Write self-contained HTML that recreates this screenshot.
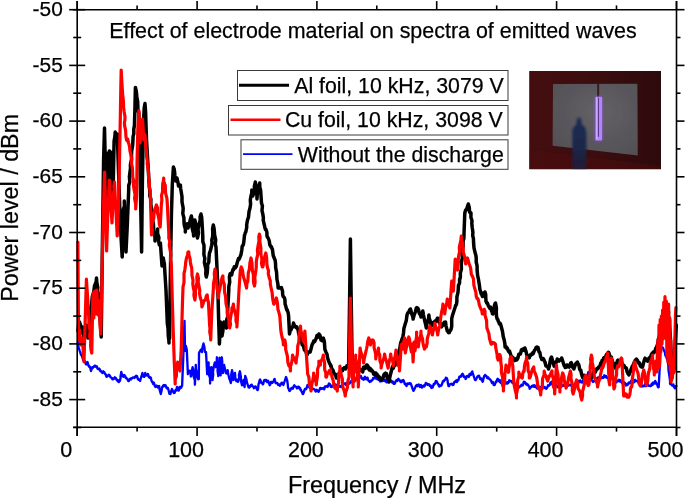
<!DOCTYPE html>
<html><head><meta charset="utf-8"><title>Effect of electrode material on spectra of emitted waves</title>
<style>
html,body{margin:0;padding:0;background:#fff;}
body{width:685px;height:498px;overflow:hidden;}
svg{display:block;}
text{font-family:"Liberation Sans",Arial,sans-serif;fill:#000;stroke:#000;stroke-width:0.25px;}
</style></head><body>
<svg width="685" height="498" viewBox="0 0 685 498">
<rect width="685" height="498" fill="#fff"/>
<!-- title -->
<text x="109.3" y="37.6" font-size="21.45">Effect of electrode material on spectra of emitted waves</text>
<!-- legend -->
<g fill="#fff" stroke="#3a3a3a" stroke-width="1">
<rect x="237.5" y="70.5" width="270.5" height="30"/>
<rect x="228.5" y="105.5" width="279.5" height="29.5"/>
<rect x="241" y="139.8" width="267" height="29.5"/>
</g>
<line x1="239" y1="85.2" x2="289" y2="85.2" stroke="#000" stroke-width="3"/>
<line x1="230.5" y1="119.7" x2="280.5" y2="119.7" stroke="#f00" stroke-width="2.6"/>
<line x1="243" y1="154.1" x2="292.5" y2="154.1" stroke="#00f" stroke-width="1.8"/>
<text x="294.2" y="92.6" font-size="21.3">Al foil, 10 kHz, 3079 V</text>
<text x="284.9" y="127.2" font-size="21.3">Cu foil, 10 kHz, 3098 V</text>
<text x="297.8" y="161.6" font-size="21.3">Without the discharge</text>
<!-- inset photo -->
<g>
<defs>
<linearGradient id="bg" x1="0" y1="0" x2="1" y2="0"><stop offset="0" stop-color="#440e10"/><stop offset="0.5" stop-color="#3c0d0f"/><stop offset="1" stop-color="#2d0a0c"/></linearGradient>
<radialGradient id="pn" cx="0.55" cy="0.4" r="0.7"><stop offset="0" stop-color="#636165"/><stop offset="1" stop-color="#525055"/></radialGradient>
<filter id="bl" x="-20%" y="-20%" width="140%" height="140%"><feGaussianBlur stdDeviation="0.55"/></filter>
<filter id="b2" x="-30%" y="-20%" width="160%" height="140%"><feGaussianBlur stdDeviation="0.85"/></filter>
<filter id="gl" x="-300%" y="-20%" width="700%" height="140%"><feGaussianBlur stdDeviation="1.6"/></filter>
<linearGradient id="bt" x1="0" y1="0" x2="0" y2="1"><stop offset="0" stop-color="#1e2e56"/><stop offset="0.6" stop-color="#1c2648"/><stop offset="1" stop-color="#221a32"/></linearGradient>
<clipPath id="ic"><rect x="529.2" y="71" width="131.8" height="98.2"/></clipPath>
</defs>
<rect x="529.2" y="71" width="131.8" height="98.2" fill="url(#bg)"/>
<g clip-path="url(#ic)">
<polygon points="529,150 590,157 661,166 661,170 529,170" fill="#4e0d0d" opacity="0.55" filter="url(#b2)"/>
<polygon points="553,84 637.4,83.8 637.8,155.6 552.6,145.8" fill="url(#pn)" filter="url(#bl)"/>
<path d="M572.4,170 L572.3,131 Q572.8,127 576.4,124.6 L576.6,120.5 Q579,114 581.5,120.5 L581.8,124.6 Q585.8,127 586.3,131.5 L586.5,170 Z" fill="url(#bt)" filter="url(#b2)"/>
<rect x="597.2" y="83.6" width="1.9" height="13.6" fill="#381a1b"/>
<rect x="595" y="96.6" width="7.2" height="44.2" rx="1" fill="#8c4cf0" opacity="0.8" filter="url(#gl)"/>
<rect x="595.4" y="96.8" width="6.7" height="43.7" rx="0.8" fill="#b583fa"/>
<rect x="596" y="97.5" width="1.6" height="42" fill="#d2b0ff" opacity="0.8"/>
<rect x="597.9" y="97.6" width="1.1" height="39.2" fill="#5a3a8a"/>
</g>
</g>
<!-- curves -->
<g fill="none" stroke-linejoin="round" stroke-linecap="round">
<path d="M77.9,342.0 L78.2,345.2 L78.8,348.0 L79.7,350.8 L80.5,353.0 L80.9,354.7 L81.3,355.1 L81.8,355.5 L82.2,357.0 L83.1,359.7 L83.5,360.5 L84.0,361.0 L84.5,362.1 L84.9,361.1 L85.8,364.0 L86.2,364.5 L86.7,364.3 L87.5,362.0 L88.4,365.3 L88.8,366.2 L89.3,367.0 L89.7,366.6 L90.2,367.4 L91.0,371.0 L91.9,368.1 L92.3,367.1 L92.8,368.0 L93.2,367.2 L93.7,367.0 L94.1,366.3 L94.5,366.0 L94.9,365.6 L95.3,366.5 L95.8,366.3 L96.2,367.0 L96.7,366.3 L97.1,367.2 L97.5,368.6 L98.0,369.0 L98.5,369.2 L99.1,368.6 L99.7,369.2 L100.2,371.0 L100.8,370.8 L101.3,371.7 L101.9,372.4 L102.4,373.0 L102.8,372.0 L103.2,371.2 L103.7,372.6 L104.1,372.0 L104.5,372.6 L105.0,373.8 L105.5,374.0 L105.9,375.0 L106.4,376.7 L106.8,376.8 L107.2,375.6 L107.7,376.0 L108.3,375.5 L108.8,374.7 L109.4,375.0 L110.0,376.0 L110.5,377.3 L111.0,377.3 L111.4,377.7 L111.9,378.0 L112.4,379.3 L112.8,379.4 L113.3,378.5 L113.8,379.0 L114.3,378.5 L114.8,377.3 L115.3,377.9 L115.8,378.0 L116.3,379.0 L116.8,380.2 L117.3,380.7 L117.8,380.0 L118.3,381.8 L118.8,382.1 L119.4,380.7 L119.9,381.0 L120.5,378.3 L120.6,376.0 L121.3,372.0 L122.4,376.0 L122.8,375.9 L123.2,376.7 L123.6,375.6 L124.0,375.0 L124.5,375.2 L124.9,376.6 L125.3,376.3 L125.8,378.0 L126.3,377.8 L126.8,378.6 L127.3,378.6 L127.8,380.0 L128.3,381.0 L128.9,381.1 L129.4,379.9 L130.0,379.0 L130.6,378.4 L131.1,379.5 L131.6,378.4 L132.2,378.0 L132.8,377.6 L133.3,377.4 L133.9,377.4 L134.4,378.0 L134.9,376.6 L135.5,376.6 L136.1,375.8 L136.6,377.0 L137.0,376.1 L137.4,377.4 L137.9,379.3 L138.3,379.0 L138.8,379.9 L139.2,379.8 L139.6,379.5 L140.1,381.0 L141.2,377.0 L142.4,373.0 L143.1,376.2 L143.5,376.6 L143.8,376.0 L144.2,376.9 L144.5,375.6 L145.2,373.0 L145.9,375.5 L146.2,375.4 L146.6,375.0 L146.9,374.5 L147.3,375.6 L147.7,374.8 L148.0,374.0 L149.0,377.3 L149.5,377.5 L150.0,378.0 L150.4,377.2 L150.8,377.7 L151.5,380.7 L151.9,381.5 L152.3,382.0 L153.2,384.1 L153.6,382.5 L154.0,383.0 L154.9,386.1 L155.4,387.0 L155.8,386.0 L156.2,386.1 L156.7,385.6 L157.1,386.6 L157.6,387.0 L158.0,387.6 L158.4,386.2 L158.8,386.4 L159.2,386.0 L159.6,389.7 L160.8,394.0 L161.7,390.1 L162.0,388.0 L162.3,386.8 L162.7,386.8 L163.0,385.8 L163.3,386.0 L163.6,385.2 L163.9,386.0 L164.3,385.0 L164.6,386.0 L165.1,386.2 L165.6,385.3 L166.6,388.0 L167.1,388.6 L167.6,387.7 L168.0,388.4 L168.5,390.0 L169.4,393.7 L169.9,393.2 L170.4,394.0 L170.8,392.4 L172.0,389.0 L172.8,391.0 L173.1,391.8 L173.5,392.0 L173.9,393.1 L174.3,392.6 L174.7,392.7 L175.1,391.0 L175.6,390.0 L176.1,390.4 L177.0,387.0 L177.5,388.8 L178.0,389.4 L178.4,390.6 L178.8,390.4 L179.5,386.9 L179.9,388.1 L180.3,388.2 L180.8,387.5 L181.2,387.6 L181.6,386.0 L182.1,385.9 L183.3,356.7 L184.5,321.0 L185.0,350.8 L185.9,346.0 L186.8,349.7 L187.9,374.2 L188.8,371.6 L189.2,371.9 L189.7,370.7 L190.6,373.1 L190.8,376.5 L191.4,372.7 L192.6,367.2 L193.5,371.1 L193.4,375.8 L194.8,379.9 L194.9,384.7 L195.8,364.9 L196.0,369.1 L197.0,372.8 L197.3,376.5 L198.1,379.3 L198.4,378.7 L198.8,378.9 L199.0,353.2 L199.4,352.1 L199.9,351.5 L200.4,350.7 L200.8,349.7 L201.4,350.0 L202.0,352.0 L202.4,347.8 L203.5,343.5 L204.4,347.0 L204.9,352.0 L205.4,351.7 L206.0,352.0 L207.2,374.2 L207.5,369.9 L208.4,366.0 L208.6,362.5 L208.7,365.9 L209.5,371.6 L209.1,375.2 L210.2,378.7 L210.1,383.5 L210.0,379.3 L211.0,375.6 L210.7,370.9 L211.3,367.2 L211.9,370.9 L211.8,375.5 L212.5,380.0 L213.2,374.8 L213.0,372.2 L213.6,367.2 L214.8,362.5 L216.0,367.2 L216.7,362.4 L216.9,357.3 L216.9,361.5 L218.1,366.2 L217.5,370.6 L218.3,376.0 L219.5,357.8 L220.6,375.4 L221.8,357.3 L222.3,362.0 L222.1,364.3 L223.0,369.0 L223.0,373.0 L223.1,368.2 L224.1,364.9 L225.2,369.9 L225.9,373.0 L226.3,373.4 L226.8,372.4 L227.6,370.1 L228.3,374.2 L229.4,378.9 L229.8,379.1 L230.1,380.4 L230.8,383.0 L231.6,378.9 L231.2,375.0 L232.0,370.1 L232.8,373.9 L232.6,377.2 L233.5,380.0 L234.6,377.1 L235.0,373.0 L235.3,377.9 L236.4,381.2 L236.8,379.7 L237.2,380.2 L237.7,381.1 L238.1,381.8 L239.2,377.3 L238.9,375.0 L239.9,371.3 L240.9,376.9 L240.9,380.5 L242.0,385.3 L242.6,384.6 L243.1,383.4 L243.4,380.0 L243.6,383.3 L244.6,387.0 L245.2,376.0 L246.4,379.1 L246.9,382.4 L248.1,385.8 L248.6,387.4 L249.2,387.6 L249.6,387.2 L250.0,385.9 L250.4,386.5 L250.8,385.3 L251.2,386.0 L251.6,384.7 L252.0,385.4 L252.4,386.1 L252.8,386.3 L253.1,386.6 L253.5,386.7 L253.9,388.2 L254.4,387.0 L254.8,386.7 L255.2,386.8 L255.7,386.5 L256.5,388.5 L256.9,388.2 L257.2,389.7 L257.6,390.0 L258.0,389.4 L258.5,384.6 L259.7,380.0 L260.1,379.4 L260.5,380.4 L261.4,383.0 L261.8,382.8 L262.3,382.8 L262.8,384.4 L263.2,384.0 L263.9,381.2 L264.2,380.2 L264.5,381.0 L264.8,379.9 L265.1,380.8 L265.5,380.3 L265.8,380.0 L266.2,380.0 L266.6,381.3 L267.1,382.1 L267.5,382.0 L267.9,380.7 L268.4,381.5 L269.3,384.0 L269.7,385.2 L270.2,384.8 L271.0,382.0 L271.5,382.8 L271.9,382.0 L272.4,382.7 L272.8,382.2 L273.2,381.6 L273.7,381.2 L274.1,379.6 L274.6,379.0 L275.5,382.7 L275.9,383.2 L276.4,383.0 L276.8,383.0 L277.2,382.9 L277.7,383.8 L278.1,385.0 L278.5,384.3 L279.0,384.4 L279.4,385.0 L279.8,385.8 L280.3,385.3 L280.7,384.0 L281.1,384.0 L281.6,382.6 L282.0,383.7 L282.5,383.0 L282.9,383.3 L283.4,385.0 L284.7,381.0 L286.0,377.0 L287.2,380.5 L287.7,384.0 L288.1,388.0 L288.6,388.6 L289.0,389.9 L289.5,391.0 L290.1,390.5 L290.6,389.6 L291.1,388.5 L291.7,388.0 L292.2,387.7 L292.8,388.8 L293.9,386.0 L294.3,385.3 L294.8,386.4 L295.2,386.2 L295.6,386.7 L296.1,386.8 L296.5,387.0 L296.9,388.4 L297.4,387.7 L297.8,388.0 L298.2,386.6 L298.7,387.6 L299.1,387.0 L299.6,388.5 L300.1,388.0 L300.5,390.0 L301.0,390.0 L301.5,391.4 L302.1,392.3 L302.6,393.9 L303.1,394.0 L304.2,391.0 L304.8,389.0 L305.3,389.0 L305.9,389.2 L306.4,388.6 L307.5,385.0 L307.9,386.1 L308.3,386.6 L308.8,386.4 L309.2,387.1 L309.6,387.7 L310.0,388.0 L310.5,388.4 L311.0,386.9 L311.5,387.5 L312.0,388.2 L312.5,388.9 L313.0,389.0 L313.6,388.7 L314.1,389.3 L314.6,389.6 L315.2,390.6 L315.8,391.6 L316.3,391.0 L316.7,389.8 L317.2,390.8 L317.6,390.4 L318.1,391.4 L318.5,391.7 L318.9,391.2 L319.4,390.0 L319.8,389.0 L320.2,387.9 L320.7,388.7 L321.1,388.8 L321.6,388.3 L322.0,388.2 L322.4,388.7 L322.9,388.5 L323.3,388.0 L323.7,388.5 L324.2,389.3 L325.1,386.4 L325.5,386.6 L325.9,386.6 L326.4,386.4 L326.8,386.0 L327.2,386.2 L327.7,386.9 L328.6,384.3 L329.0,383.6 L329.4,384.6 L329.9,384.1 L330.3,385.0 L330.7,386.8 L331.2,387.0 L331.6,386.9 L332.1,386.7 L332.5,385.4 L332.9,385.8 L333.4,386.7 L333.8,386.0 L334.3,384.6 L334.9,384.3 L335.4,384.6 L335.9,386.8 L336.5,385.9 L337.0,385.0 L337.5,385.0 L338.0,386.0 L338.5,386.4 L339.0,386.8 L339.5,386.5 L340.0,386.0 L340.5,385.9 L341.0,387.1 L341.5,386.7 L342.0,386.1 L342.5,384.2 L343.0,384.0 L343.5,384.1 L344.0,384.0 L344.5,383.9 L345.0,383.4 L345.5,383.3 L346.0,385.0 L346.5,384.1 L347.0,383.6 L347.5,382.7 L348.0,383.7 L348.5,383.2 L349.0,383.0 L349.5,383.6 L350.0,382.7 L350.5,382.1 L351.0,381.2 L351.5,382.1 L352.0,382.0 L352.5,381.6 L353.0,380.1 L353.5,379.7 L354.0,381.0 L354.5,381.6 L355.0,380.1 L355.5,380.0 L356.0,379.0 L356.5,377.6 L357.0,378.0 L357.5,379.6 L358.1,379.8 L358.6,378.6 L359.1,378.0 L359.6,376.8 L360.1,377.0 L360.5,377.5 L361.0,376.0 L361.4,377.2 L361.8,378.0 L362.3,379.1 L362.7,379.0 L363.1,378.6 L363.6,379.7 L364.0,379.3 L364.4,377.6 L364.9,376.8 L365.3,378.0 L365.7,378.1 L366.2,379.4 L366.6,378.3 L367.1,377.7 L367.5,377.6 L367.9,379.5 L368.4,380.5 L368.8,381.0 L369.2,380.9 L369.7,382.0 L370.1,381.0 L370.6,380.8 L371.0,381.3 L371.4,380.9 L371.9,380.3 L372.3,380.0 L372.7,379.8 L373.2,377.9 L373.6,378.2 L374.0,378.0 L374.5,378.3 L374.9,377.0 L375.3,377.6 L375.8,377.9 L376.2,378.6 L376.6,377.5 L377.1,379.1 L377.5,379.0 L377.9,378.7 L378.4,379.8 L378.9,380.2 L379.3,379.6 L379.8,380.2 L380.2,381.5 L380.7,381.3 L381.1,380.0 L381.5,380.7 L382.0,380.5 L382.4,381.1 L382.9,380.2 L383.3,379.0 L383.7,379.4 L384.2,379.9 L384.6,381.0 L385.0,381.0 L385.5,380.0 L386.4,382.4 L386.8,382.4 L387.2,380.3 L387.7,381.7 L388.1,382.0 L388.5,380.2 L389.0,380.3 L389.4,380.5 L389.9,380.3 L390.3,379.9 L390.7,381.3 L391.2,381.3 L391.6,381.0 L392.0,382.5 L392.5,382.7 L392.9,381.7 L393.4,382.4 L393.8,383.9 L394.2,383.6 L394.7,383.7 L395.1,383.0 L395.7,381.2 L396.2,380.4 L396.8,380.0 L397.3,381.0 L397.9,379.8 L398.4,378.7 L398.9,380.1 L399.5,380.0 L400.1,381.2 L400.6,382.0 L401.1,381.1 L401.7,382.0 L402.2,380.4 L402.8,380.9 L403.3,380.1 L403.9,381.0 L404.5,383.3 L404.9,384.3 L405.2,384.0 L405.5,383.5 L405.9,384.5 L406.2,385.4 L406.5,386.0 L407.4,383.8 L407.8,383.4 L408.2,384.0 L408.6,384.0 L409.1,383.2 L409.6,383.3 L410.0,384.0 L410.5,383.2 L411.0,384.1 L412.0,387.0 L413.0,390.0 L413.5,390.8 L414.0,390.0 L414.4,389.2 L414.9,388.3 L415.8,386.0 L416.2,385.9 L416.6,385.0 L417.1,385.7 L417.5,385.0 L417.9,386.2 L418.3,385.5 L418.8,384.6 L419.2,385.9 L419.6,386.1 L420.0,387.0 L420.5,385.3 L420.9,385.1 L421.9,387.7 L422.3,386.9 L422.8,386.0 L423.2,386.6 L423.7,385.6 L424.1,386.6 L424.5,386.3 L425.4,384.0 L425.8,382.9 L426.3,383.8 L426.7,383.4 L427.1,384.4 L427.6,384.9 L428.0,384.0 L428.4,384.4 L428.9,384.1 L429.4,384.8 L429.8,386.0 L430.2,385.6 L430.6,385.4 L431.5,388.0 L432.1,387.0 L432.6,387.6 L433.7,384.0 L434.2,384.6 L434.8,383.8 L435.9,381.0 L436.4,381.2 L437.0,381.8 L437.6,383.7 L438.1,384.0 L438.7,385.5 L439.2,386.4 L439.8,385.3 L440.3,386.0 L440.8,385.4 L441.4,385.6 L442.4,383.0 L442.9,381.3 L443.4,380.8 L443.9,381.3 L444.4,380.0 L444.9,379.9 L445.4,379.4 L445.9,377.7 L446.4,378.0 L447.0,378.5 L447.6,380.5 L447.8,383.0 L448.5,386.1 L448.8,385.8 L449.1,386.0 L449.5,385.0 L450.0,384.1 L450.4,384.2 L450.8,384.0 L451.2,383.8 L451.7,384.1 L452.2,384.2 L452.6,385.0 L453.0,383.8 L453.5,384.8 L454.3,382.0 L454.8,382.2 L455.2,382.0 L455.6,381.0 L456.1,380.6 L456.5,380.3 L456.9,382.0 L457.4,380.9 L457.8,380.0 L458.4,380.3 L458.9,378.4 L459.4,376.7 L460.0,377.0 L460.6,376.0 L461.1,376.6 L461.6,375.7 L462.2,374.0 L462.6,373.8 L463.1,374.6 L464.0,377.0 L464.4,376.4 L464.9,376.8 L465.7,379.0 L466.1,378.2 L466.5,377.5 L466.9,376.2 L467.2,375.9 L467.6,376.1 L468.0,376.0 L468.4,376.6 L468.8,377.0 L469.6,373.9 L470.0,375.0 L470.4,374.0 L470.8,375.0 L471.2,373.9 L471.9,371.9 L472.3,371.4 L472.7,373.0 L474.0,377.0 L474.3,377.9 L474.6,378.6 L475.0,379.9 L475.3,380.0 L475.6,380.1 L476.0,378.6 L476.3,378.9 L476.6,378.0 L477.0,377.6 L477.3,376.7 L477.6,376.6 L478.0,376.0 L478.6,375.7 L479.1,375.9 L480.2,379.0 L480.7,378.3 L481.2,378.6 L481.8,380.5 L482.3,381.0 L482.6,381.7 L483.0,380.7 L483.6,378.0 L484.3,376.0 L484.6,376.4 L485.0,375.0 L485.6,375.7 L486.1,375.6 L486.6,376.4 L487.2,378.0 L487.8,378.3 L488.3,377.4 L488.8,378.7 L489.4,379.0 L489.8,379.3 L490.3,379.6 L490.7,380.4 L491.1,380.7 L492.0,383.0 L492.4,382.2 L492.9,382.0 L493.7,384.9 L494.2,385.1 L494.6,385.0 L495.1,383.8 L495.5,382.9 L495.9,381.5 L496.4,382.0 L497.2,379.3 L497.7,378.8 L498.1,379.0 L498.5,379.6 L499.0,381.1 L499.4,381.7 L499.8,380.2 L500.7,383.0 L501.1,382.9 L501.6,382.8 L502.5,385.5 L502.9,385.0 L503.4,385.0 L503.8,383.4 L504.3,383.0 L504.7,382.6 L505.1,383.5 L505.6,382.9 L506.0,383.0 L506.6,382.6 L507.1,383.7 L507.6,382.3 L508.2,383.1 L509.3,380.3 L509.8,381.5 L510.4,381.0 L510.9,381.0 L511.4,381.1 L512.0,382.0 L512.5,383.1 L513.0,383.2 L513.5,383.0 L514.0,382.7 L514.5,383.2 L515.5,386.0 L516.0,384.8 L516.5,385.0 L517.0,383.9 L517.5,384.6 L518.6,388.0 L519.1,387.0 L519.6,387.0 L520.0,386.3 L520.5,386.4 L521.0,386.0 L521.4,384.7 L521.8,385.0 L522.3,385.0 L522.7,385.4 L523.2,383.8 L523.6,382.4 L524.0,381.7 L524.5,382.8 L524.9,382.0 L525.5,383.3 L526.0,384.2 L526.5,383.7 L527.1,385.0 L527.7,384.4 L528.2,385.1 L528.8,386.2 L529.3,387.0 L529.7,388.7 L530.2,388.2 L530.6,387.2 L531.0,386.8 L531.5,386.9 L531.9,385.8 L532.4,385.7 L532.8,386.0 L533.2,386.5 L533.7,385.3 L534.1,385.2 L534.5,386.9 L535.0,386.3 L535.4,385.7 L535.9,387.2 L536.3,387.0 L536.7,387.3 L537.2,388.6 L538.0,386.1 L538.5,386.4 L538.9,387.8 L539.4,386.8 L539.8,388.0 L540.2,387.2 L540.7,387.9 L541.1,386.8 L541.5,386.7 L542.0,387.9 L542.4,388.2 L542.9,387.0 L543.3,387.0 L543.7,386.7 L544.2,386.8 L544.6,386.8 L545.0,388.1 L545.5,388.3 L545.9,388.0 L546.4,388.8 L546.8,388.0 L547.2,387.5 L547.7,386.3 L548.1,385.3 L548.5,385.6 L549.0,385.8 L549.4,385.0 L549.8,384.9 L550.3,382.8 L550.7,382.9 L551.1,382.5 L551.6,381.8 L552.0,383.0 L552.4,384.7 L552.9,385.0 L553.3,385.3 L553.8,383.9 L554.2,384.5 L554.6,385.8 L555.1,385.1 L555.5,386.0 L555.9,384.7 L556.4,384.8 L556.8,385.9 L557.2,386.7 L557.7,387.3 L558.1,386.3 L558.6,386.9 L559.0,387.0 L559.4,387.8 L559.9,386.8 L560.3,385.6 L560.8,385.8 L561.2,384.8 L561.6,384.7 L562.1,385.9 L562.5,386.0 L562.9,386.0 L563.4,385.3 L563.8,385.0 L564.2,385.0 L564.7,385.2 L565.1,384.7 L565.6,385.0 L566.0,386.0 L566.4,385.4 L566.8,386.8 L567.2,386.2 L567.6,386.0 L568.2,384.4 L568.7,384.9 L569.3,385.2 L569.9,385.0 L570.4,384.6 L571.0,385.0 L571.4,385.8 L571.9,386.7 L572.3,386.8 L572.8,386.5 L573.2,386.3 L573.6,387.1 L574.1,386.5 L574.5,386.0 L574.9,385.3 L575.4,386.8 L576.2,383.7 L576.7,384.6 L577.1,383.7 L577.6,384.0 L578.0,384.0 L579.0,380.8 L579.5,382.0 L580.0,381.0 L580.4,380.5 L580.8,382.0 L581.2,382.4 L581.7,382.3 L582.1,382.6 L582.5,382.0 L583.0,380.5 L583.5,379.8 L584.0,378.2 L584.6,378.4 L585.1,376.9 L585.6,377.0 L586.1,375.7 L586.6,375.9 L587.2,375.7 L587.7,374.4 L588.2,372.3 L588.7,372.0 L589.2,373.5 L589.8,373.6 L590.8,377.0 L591.9,380.7 L592.5,381.2 L593.0,382.0 L593.5,381.5 L594.0,380.8 L594.5,381.2 L595.0,381.1 L595.5,380.7 L596.0,380.0 L596.5,379.4 L597.1,378.2 L597.6,378.0 L598.1,377.3 L598.7,377.3 L599.2,378.0 L599.7,379.1 L600.2,379.2 L600.7,378.1 L601.2,378.2 L601.7,378.1 L602.2,377.0 L602.7,378.0 L603.2,377.8 L603.8,377.2 L604.3,375.3 L604.8,375.8 L605.3,377.0 L605.7,377.1 L606.2,376.1 L606.6,377.7 L607.0,377.3 L607.5,377.6 L607.9,378.2 L608.4,378.6 L608.8,380.0 L609.2,379.6 L609.7,379.0 L610.1,380.0 L610.5,379.1 L611.0,377.5 L611.4,377.6 L611.9,377.2 L612.3,379.0 L612.7,378.9 L613.2,378.8 L613.6,380.0 L614.0,380.5 L614.5,380.5 L614.9,379.3 L615.4,379.9 L615.8,381.0 L616.3,382.5 L616.7,381.9 L617.2,380.6 L617.7,380.6 L618.1,380.9 L618.6,380.0 L619.0,379.9 L619.5,381.5 L619.9,380.0 L620.4,380.6 L620.8,380.5 L621.2,382.0 L621.7,381.5 L622.1,383.0 L622.5,383.6 L623.0,384.2 L623.4,383.9 L623.9,383.5 L624.3,382.4 L624.7,382.7 L625.6,385.0 L626.0,385.5 L626.3,384.0 L626.7,384.2 L627.2,385.0 L627.6,384.0 L628.0,384.5 L628.5,382.8 L628.9,382.5 L629.4,383.3 L629.8,383.0 L630.3,382.9 L630.9,381.0 L631.4,381.6 L631.9,383.6 L632.5,381.8 L633.0,382.0 L633.5,382.6 L634.0,382.1 L634.5,380.3 L635.0,379.7 L635.5,381.4 L636.0,381.0 L636.5,380.9 L637.0,380.8 L637.5,381.3 L638.0,381.1 L639.0,384.3 L639.5,383.8 L640.0,384.0 L640.5,384.4 L641.0,383.5 L641.9,386.5 L642.4,386.4 L642.8,386.4 L643.3,385.8 L643.8,386.0 L644.3,386.0 L644.9,384.3 L645.5,384.4 L646.0,386.2 L646.5,386.0 L647.1,384.9 L647.7,384.0 L648.2,385.0 L648.8,385.8 L649.3,385.9 L649.9,385.8 L650.4,386.2 L651.0,386.0 L651.5,384.2 L652.0,383.6 L652.6,385.0 L653.2,382.5 L653.6,382.9 L653.9,383.0 L654.2,383.1 L654.5,383.6 L655.2,381.0 L655.7,382.5 L656.1,382.2 L656.5,384.1 L657.0,384.0 L657.9,387.0 L658.3,387.3 L658.7,387.0 L659.6,370.0 L660.5,351.0 L661.4,347.0 L661.8,347.0 L662.2,348.2 L662.7,347.5 L663.1,348.0 L664.0,350.9 L664.4,350.9 L664.8,352.0 L665.3,355.3 L665.7,356.0 L666.2,356.5 L666.6,358.0 L667.8,361.1 L668.4,366.0 L668.5,370.4 L669.3,375.0 L670.0,380.4 L670.1,384.0 L670.4,382.7 L670.8,382.7 L671.1,383.9 L671.4,384.0 L671.7,385.0 L672.0,385.4 L672.4,384.8 L672.7,385.0 L673.0,385.8 L673.4,384.4 L674.0,387.0 L674.4,387.0 L674.7,388.2 L675.0,388.3 L675.4,388.0 L675.8,386.2 L676.3,386.0" stroke="#00f" stroke-width="2.35"/>
<path d="M78.0,331.0 L78.5,325.8 L79.5,322.0 L80.4,324.8 L80.2,329.1 L81.0,333.0 L81.9,330.0 L82.4,327.0 L82.8,331.2 L83.6,334.8 L84.0,340.0 L84.2,336.9 L85.2,331.9 L85.1,329.6 L86.0,325.0 L87.0,329.1 L86.8,332.8 L88.0,338.0 L88.9,333.6 L88.6,329.2 L89.5,326.6 L89.4,322.2 L90.0,318.0 L90.9,313.2 L90.7,308.1 L91.7,303.9 L92.0,300.0 L92.3,296.5 L92.7,295.0 L93.2,295.4 L93.6,293.5 L94.0,290.0 L94.5,285.6 L95.0,284.8 L95.6,283.1 L96.1,282.4 L96.5,278.0 L96.8,282.4 L97.8,287.3 L97.6,290.3 L98.5,295.0 L100.0,318.0 L101.2,337.0 L102.6,230.0 L103.6,160.0 L104.5,128.0 L105.5,172.0 L106.2,153.0 L106.9,200.0 L107.9,162.0 L108.9,157.6 L108.6,155.2 L109.4,151.0 L110.2,196.0 L110.9,166.0 L111.7,214.0 L112.5,152.0 L113.2,186.0 L114.1,141.0 L114.9,136.5 L115.2,132.0 L115.6,136.3 L116.3,140.0 L117.2,137.1 L117.3,134.0 L118.5,170.0 L120.0,215.0 L121.2,240.0 L122.2,257.0 L123.3,215.0 L123.2,210.0 L124.4,205.9 L124.3,201.0 L125.2,230.0 L126.0,252.0 L127.3,225.0 L128.7,190.0 L128.7,185.4 L129.8,181.9 L129.4,176.8 L130.0,172.0 L130.5,168.2 L130.4,164.5 L131.6,158.8 L131.5,155.0 L131.7,150.7 L132.6,145.6 L132.9,141.0 L133.1,136.4 L133.8,133.9 L133.8,129.0 L134.4,125.7 L134.9,110.0 L135.4,87.5 L136.2,91.0 L136.5,93.0 L136.8,96.9 L137.7,101.8 L137.8,105.0 L137.9,109.7 L138.8,113.0 L139.8,150.0 L140.6,200.0 L141.6,252.0 L142.4,180.0 L143.4,125.0 L144.2,108.0 L145.0,103.5 L145.6,112.0 L146.0,125.0 L146.5,140.0 L148.0,165.0 L149.3,187.0 L149.9,191.1 L149.8,196.3 L150.3,196.9 L150.9,199.1 L150.8,204.0 L151.3,207.5 L152.3,212.0 L152.9,216.0 L152.6,219.5 L153.4,223.8 L153.6,228.0 L153.8,232.5 L155.0,237.0 L155.0,241.0 L155.3,238.7 L156.3,236.0 L157.3,231.6 L157.6,229.0 L157.6,233.6 L158.9,237.6 L158.6,240.8 L159.3,245.0 L159.9,243.5 L160.4,243.0 L162.0,266.0 L162.8,262.3 L163.3,258.0 L163.6,260.5 L164.4,264.0 L164.6,268.0 L166.0,290.0 L167.2,320.0 L167.3,323.4 L168.0,328.0 L168.2,333.0 L168.3,336.1 L168.9,340.4 L169.0,343.0 L168.9,339.8 L169.6,338.0 L169.9,310.0 L170.3,280.0 L170.8,250.0 L171.4,215.0 L172.3,185.0 L173.4,167.0 L174.2,169.2 L174.6,172.0 L174.9,175.7 L175.8,181.0 L176.9,178.0 L178.1,183.0 L178.5,186.0 L179.0,185.9 L179.4,185.4 L179.9,185.6 L180.4,185.0 L180.6,188.2 L181.4,193.0 L182.0,196.7 L182.0,201.7 L182.6,205.0 L183.2,208.3 L182.8,213.6 L183.9,217.8 L184.0,222.0 L184.3,225.4 L185.4,229.4 L185.3,232.0 L185.5,227.5 L186.5,224.0 L186.9,223.9 L187.2,225.4 L188.0,228.0 L188.6,225.9 L189.1,225.5 L189.8,222.0 L190.3,219.6 L191.4,216.0 L192.1,220.1 L191.8,226.3 L192.6,230.0 L193.5,233.6 L193.6,236.0 L193.5,232.5 L194.5,228.0 L194.3,223.1 L194.9,220.0 L195.7,224.1 L196.2,229.0 L196.6,233.9 L197.5,238.0 L198.5,233.2 L198.0,229.6 L199.0,224.0 L200.2,220.4 L200.1,216.8 L201.0,214.0 L201.7,217.4 L202.0,222.0 L202.8,236.0 L202.8,241.5 L204.0,245.3 L204.0,250.0 L203.9,254.6 L204.8,258.3 L204.4,262.6 L205.2,266.0 L206.0,269.6 L205.7,273.9 L206.3,277.0 L207.2,273.1 L207.6,268.0 L207.6,264.5 L208.0,263.8 L208.4,263.1 L208.8,262.2 L209.0,258.0 L209.4,253.3 L210.6,250.0 L211.5,245.8 L212.0,243.0 L211.8,239.9 L212.7,236.3 L212.8,232.0 L212.6,228.8 L213.3,225.0 L214.1,228.6 L214.4,232.0 L214.6,234.8 L215.7,239.8 L215.3,244.1 L216.0,247.0 L216.9,266.0 L217.7,283.0 L218.6,318.0 L219.4,344.0 L220.5,322.0 L221.3,327.4 L221.1,330.8 L222.0,336.0 L222.9,330.9 L223.1,326.8 L224.0,322.0 L224.4,322.2 L224.8,322.9 L225.6,325.6 L226.4,328.0 L226.9,324.8 L226.7,319.9 L227.7,316.8 L227.6,312.0 L228.8,290.0 L228.8,286.8 L229.7,282.1 L229.4,277.0 L230.0,274.0 L230.4,273.6 L230.8,274.2 L231.2,274.8 L231.6,275.0 L232.5,271.1 L232.9,269.6 L233.4,270.0 L234.3,266.8 L234.8,267.0 L235.2,268.0 L235.8,267.1 L236.3,266.3 L237.4,262.0 L238.5,258.6 L239.1,259.2 L239.6,258.0 L241.0,254.5 L241.8,250.0 L242.2,246.3 L242.7,245.6 L243.1,245.2 L243.6,243.4 L244.0,240.0 L244.5,235.2 L244.9,234.1 L245.4,232.5 L245.8,232.0 L246.7,227.5 L246.7,224.5 L247.5,220.0 L248.5,217.1 L248.8,214.0 L249.0,211.8 L250.0,208.0 L250.6,204.2 L250.3,200.0 L251.0,196.0 L251.8,192.9 L251.8,190.0 L252.0,193.0 L252.8,196.0 L253.8,193.0 L254.8,189.7 L254.3,186.6 L255.3,182.0 L256.0,185.6 L256.2,189.0 L256.0,193.0 L256.5,193.5 L256.9,194.9 L257.0,199.0 L257.3,193.6 L258.3,190.0 L259.2,185.6 L259.7,183.0 L259.8,187.1 L260.6,190.0 L261.5,203.0 L262.4,206.0 L262.0,210.7 L262.8,214.0 L263.4,218.1 L263.2,220.1 L264.1,224.0 L265.0,228.0 L265.4,229.4 L265.8,229.0 L266.9,232.3 L267.0,236.0 L267.6,237.4 L268.2,238.0 L269.3,241.0 L269.8,245.0 L270.4,245.6 L271.0,247.0 L271.5,246.8 L271.9,248.5 L272.4,249.3 L272.9,253.0 L273.2,255.5 L274.2,258.0 L274.7,259.3 L275.1,259.9 L275.5,263.0 L275.7,267.8 L276.5,271.8 L276.8,276.0 L276.9,279.0 L277.9,284.2 L278.1,288.0 L278.7,287.9 L279.2,288.1 L279.8,287.5 L280.3,288.0 L280.9,288.1 L281.4,287.6 L282.5,291.0 L282.7,294.6 L283.2,296.6 L283.8,297.0 L284.4,297.8 L284.9,299.7 L285.1,304.0 L285.7,306.1 L286.8,310.0 L287.2,309.9 L287.7,311.4 L288.1,312.5 L288.6,316.0 L289.5,334.0 L290.2,330.4 L290.6,330.0 L291.0,330.0 L291.8,327.3 L292.2,327.6 L292.7,327.1 L293.5,323.0 L294.6,326.4 L295.1,326.1 L295.7,327.0 L296.2,327.6 L296.8,326.9 L297.3,328.4 L297.9,329.0 L298.7,333.8 L300.0,337.0 L301.5,341.4 L302.3,345.0 L302.8,345.4 L303.4,345.7 L304.4,350.0 L304.9,349.4 L305.5,350.1 L306.6,354.0 L307.1,354.9 L307.6,353.8 L308.0,352.5 L308.5,352.0 L308.9,352.5 L309.4,351.7 L309.8,351.3 L310.2,352.0 L310.9,349.4 L312.0,345.0 L312.4,343.7 L312.9,343.6 L313.7,341.0 L314.3,341.7 L314.9,341.3 L315.4,339.8 L316.0,339.0 L317.0,335.5 L317.4,337.3 L317.9,337.2 L318.9,334.0 L319.4,334.5 L319.9,335.1 L321.0,340.0 L321.6,339.7 L322.1,340.6 L322.7,338.7 L323.3,338.0 L324.3,341.2 L324.6,345.0 L324.9,349.4 L325.9,352.0 L326.4,353.0 L327.0,354.3 L327.6,358.0 L328.5,360.6 L329.4,363.0 L329.8,363.9 L330.3,364.2 L330.7,366.0 L331.1,365.9 L332.0,370.0 L332.6,369.5 L333.1,370.5 L334.2,374.0 L334.8,373.8 L335.3,374.0 L336.4,378.0 L337.5,375.2 L338.1,374.5 L338.6,375.0 L339.7,372.2 L340.2,372.5 L340.8,371.0 L341.2,369.5 L341.7,369.5 L342.1,369.2 L342.5,370.8 L343.0,369.0 L343.4,369.0 L343.8,368.2 L344.3,367.7 L344.7,368.8 L345.1,368.3 L345.6,368.9 L346.0,368.0 L346.4,367.4 L346.9,365.9 L347.3,366.9 L347.7,366.0 L348.2,366.9 L348.6,366.0 L349.6,300.0 L350.4,239.0 L351.2,300.0 L352.2,366.0 L352.6,365.1 L353.1,364.9 L354.0,368.0 L354.5,367.1 L355.0,367.4 L355.5,368.0 L356.0,366.9 L357.0,370.5 L357.5,370.8 L358.0,370.0 L358.5,369.3 L358.9,370.5 L359.4,370.1 L359.9,369.1 L360.4,369.6 L360.9,370.6 L361.3,370.6 L361.8,371.0 L362.2,371.1 L362.7,371.9 L363.5,367.3 L364.0,367.0 L364.4,368.0 L364.9,367.2 L365.3,368.4 L366.2,365.7 L366.6,364.9 L367.1,365.0 L367.5,365.4 L368.0,366.3 L368.8,369.1 L369.3,370.0 L369.7,369.0 L370.1,368.3 L370.6,369.2 L371.0,370.7 L371.4,370.4 L371.9,370.1 L372.3,371.0 L372.8,371.5 L373.2,372.5 L373.6,374.1 L374.1,374.5 L374.6,374.4 L375.0,373.0 L375.4,372.9 L375.9,373.0 L376.7,375.8 L377.2,374.5 L377.6,375.0 L378.1,375.9 L378.5,376.9 L378.9,376.7 L379.4,377.0 L379.8,378.9 L380.2,379.1 L380.7,378.9 L381.1,380.0 L381.7,378.8 L382.2,378.1 L382.8,378.3 L383.3,377.0 L383.9,374.7 L384.4,374.3 L384.9,373.5 L385.5,373.0 L385.9,373.9 L386.4,373.5 L387.2,378.0 L387.6,378.7 L388.1,378.4 L389.0,382.0 L389.5,379.0 L390.3,375.0 L391.2,371.8 L391.6,370.0 L392.5,366.5 L392.9,366.4 L393.3,368.2 L394.2,365.0 L394.6,364.2 L395.1,365.3 L395.5,363.3 L396.0,363.1 L396.4,362.9 L396.9,361.0 L397.5,356.0 L398.6,352.0 L399.6,349.4 L400.0,347.0 L400.6,343.4 L401.7,340.0 L402.3,338.2 L402.8,337.4 L403.5,333.0 L403.9,328.6 L405.2,324.0 L406.3,320.4 L407.0,315.0 L407.9,312.7 L408.4,312.8 L408.8,312.0 L409.6,309.9 L410.1,310.2 L410.5,309.0 L411.0,311.3 L411.8,314.0 L412.8,316.5 L413.1,319.0 L414.0,315.5 L415.3,312.0 L416.4,307.8 L416.9,307.6 L417.5,308.0 L417.9,308.3 L418.4,309.5 L419.2,313.0 L419.6,314.0 L420.1,313.2 L421.0,317.0 L422.2,313.1 L422.8,311.0 L423.5,315.1 L424.5,320.0 L425.6,324.2 L426.3,328.0 L426.6,325.0 L427.6,321.0 L428.1,319.9 L428.6,318.4 L428.9,315.0 L429.1,317.8 L430.2,321.0 L431.1,324.5 L431.5,326.0 L432.4,323.0 L432.8,322.5 L433.2,323.0 L433.6,323.4 L434.1,323.0 L434.6,321.6 L435.0,321.0 L435.6,320.7 L436.2,321.3 L437.3,318.3 L437.9,318.2 L438.5,320.0 L439.4,323.0 L439.8,323.5 L440.2,323.0 L441.1,326.2 L441.6,326.9 L442.0,326.0 L442.4,325.8 L442.9,325.1 L443.4,324.9 L443.8,323.0 L444.2,322.3 L444.6,323.5 L445.1,322.2 L445.5,322.0 L446.0,325.8 L447.3,331.0 L447.7,331.3 L448.1,331.6 L448.6,332.7 L449.0,332.0 L449.4,332.4 L449.9,331.0 L450.4,330.3 L450.8,330.0 L451.7,326.6 L451.7,322.0 L451.7,318.7 L452.6,315.0 L453.9,311.0 L455.2,307.0 L455.6,305.6 L456.1,305.1 L456.5,304.4 L456.9,301.0 L456.9,296.8 L457.9,292.9 L458.2,290.0 L458.4,285.5 L459.0,284.2 L459.6,282.8 L459.6,279.0 L460.0,278.9 L460.4,277.0 L460.3,273.3 L461.4,269.0 L461.3,265.0 L461.5,261.8 L462.4,257.5 L461.9,254.1 L462.6,250.0 L463.1,246.5 L463.1,241.1 L463.9,238.5 L464.0,234.0 L464.8,213.0 L465.6,210.2 L466.1,209.5 L466.5,210.0 L467.0,208.0 L468.3,204.0 L469.3,207.8 L469.6,212.0 L470.0,212.8 L470.3,212.4 L470.6,213.2 L471.0,213.0 L470.9,217.3 L472.0,220.8 L471.8,223.5 L472.3,228.0 L472.9,232.2 L472.7,235.6 L473.4,238.4 L473.6,243.0 L474.0,247.8 L474.9,252.0 L475.9,255.4 L476.2,258.0 L476.2,262.0 L477.1,265.9 L477.1,270.0 L477.6,275.3 L478.4,279.0 L479.3,284.5 L479.7,288.0 L479.9,289.5 L481.0,293.0 L481.3,294.3 L481.6,294.3 L482.3,296.0 L482.6,296.5 L483.0,295.9 L483.6,293.0 L484.0,294.0 L484.3,294.6 L485.0,292.0 L485.7,294.5 L485.8,298.0 L486.0,301.4 L486.4,301.9 L486.7,303.0 L487.1,302.8 L487.5,303.2 L488.4,306.0 L488.8,306.4 L489.3,307.4 L489.8,308.2 L490.2,308.0 L490.5,307.1 L490.9,307.9 L491.5,311.0 L491.9,311.2 L492.2,312.6 L492.5,313.8 L492.9,314.0 L494.0,310.3 L494.2,308.0 L494.4,305.5 L495.0,303.8 L495.5,303.0 L496.4,307.9 L496.3,312.0 L496.5,316.3 L497.2,319.0 L497.8,319.3 L498.3,321.4 L498.8,321.8 L499.4,324.0 L499.9,324.1 L500.5,323.9 L501.6,328.0 L502.4,331.0 L502.9,334.0 L503.2,336.6 L504.2,340.0 L504.8,343.2 L505.1,347.0 L505.6,346.5 L506.1,346.7 L506.7,348.3 L507.2,348.0 L508.4,351.0 L508.9,351.8 L509.5,351.0 L510.8,355.0 L512.1,359.0 L512.5,359.1 L512.8,357.3 L513.5,360.0 L514.0,359.8 L514.6,360.6 L515.2,359.0 L515.7,359.0 L516.2,358.7 L516.8,360.0 L517.3,359.0 L517.9,358.0 L518.8,354.3 L519.2,354.6 L519.6,354.0 L520.0,353.8 L520.5,353.9 L521.4,350.0 L521.8,349.7 L522.2,350.4 L522.7,349.6 L523.1,349.0 L523.5,349.9 L524.0,350.3 L524.9,348.0 L526.2,352.0 L526.6,354.2 L527.5,357.0 L527.9,356.8 L528.4,355.9 L528.8,357.4 L529.2,357.9 L530.1,355.0 L530.5,355.7 L531.0,355.1 L531.5,354.7 L531.9,353.7 L532.3,353.1 L532.8,354.0 L533.3,353.5 L533.9,351.7 L534.5,350.4 L535.0,350.0 L535.5,348.9 L536.1,347.5 L536.7,347.0 L537.2,347.0 L537.7,347.7 L538.1,347.5 L539.0,352.0 L539.4,351.8 L539.9,352.7 L540.7,357.0 L541.2,357.7 L541.8,359.5 L542.3,358.7 L542.8,359.0 L543.3,358.6 L543.9,359.6 L544.5,361.5 L545.0,362.0 L545.9,365.9 L546.3,366.1 L546.8,366.0 L547.2,365.9 L547.6,366.4 L548.5,369.0 L549.5,365.5 L550.0,362.0 L550.5,359.2 L551.0,357.9 L551.5,357.0 L552.6,361.0 L553.8,365.0 L554.2,366.2 L554.6,365.5 L555.5,362.0 L556.0,362.1 L556.4,362.2 L557.3,359.0 L557.8,359.4 L558.4,360.9 L559.0,361.1 L559.5,360.0 L560.0,360.1 L560.6,359.6 L561.2,359.8 L561.7,358.0 L563.0,362.0 L564.3,366.0 L564.8,365.9 L565.2,367.5 L565.6,367.3 L566.1,367.3 L567.0,365.0 L567.4,365.9 L567.9,365.5 L568.3,366.8 L568.7,366.6 L569.2,367.1 L569.6,366.0 L570.7,363.0 L571.2,362.6 L571.8,364.0 L572.8,367.5 L573.4,367.8 L573.9,369.0 L574.8,366.3 L575.6,364.0 L576.0,363.3 L576.5,364.1 L577.0,362.4 L577.4,362.0 L577.9,364.0 L578.4,364.2 L578.9,365.1 L579.6,369.0 L580.2,370.4 L580.7,370.0 L581.8,375.0 L582.6,377.4 L583.1,376.4 L583.5,376.0 L584.0,376.4 L584.4,375.4 L585.3,378.0 L585.8,378.2 L586.2,378.5 L586.6,378.1 L587.1,378.6 L587.5,379.9 L588.0,380.0 L588.5,379.8 L589.0,377.8 L589.5,377.3 L590.0,378.4 L590.5,377.4 L591.0,376.0 L591.5,376.8 L592.0,377.1 L593.1,372.9 L593.6,372.4 L594.1,373.0 L594.7,372.4 L595.2,372.4 L596.4,369.5 L596.9,368.5 L597.5,369.0 L597.9,368.0 L598.3,368.3 L598.8,366.9 L599.2,366.5 L599.6,366.5 L600.0,366.0 L600.8,363.0 L601.1,363.3 L601.5,363.0 L602.1,360.5 L602.7,361.0 L603.7,358.2 L604.1,357.5 L604.6,358.0 L605.0,357.2 L605.5,358.3 L606.3,355.0 L606.7,354.1 L607.1,354.0 L607.5,353.9 L607.9,353.0 L608.3,352.3 L608.8,352.8 L609.6,355.0 L610.5,357.8 L611.0,357.0 L611.4,357.0 L611.8,359.9 L612.3,360.3 L612.7,362.6 L613.2,363.0 L613.6,363.6 L614.0,363.9 L614.9,368.0 L615.8,364.6 L616.2,363.4 L616.6,364.0 L617.5,360.7 L618.0,360.1 L618.4,361.0 L618.9,360.9 L619.5,361.3 L620.0,362.3 L620.5,363.0 L620.9,362.9 L621.3,362.2 L621.8,362.2 L622.2,363.9 L623.0,366.0 L623.5,365.1 L624.1,365.6 L624.6,367.0 L625.2,367.6 L625.8,367.6 L626.3,368.0 L627.2,372.0 L627.6,372.5 L628.0,373.8 L628.5,374.0 L628.9,375.0 L629.8,372.1 L630.3,372.0 L630.8,370.0 L631.7,367.6 L632.2,366.4 L632.6,366.0 L633.1,365.2 L633.5,364.1 L634.0,362.8 L634.5,362.0 L635.0,360.8 L635.5,360.0 L636.0,360.2 L636.5,359.0 L637.0,360.6 L637.5,360.3 L638.4,363.0 L638.9,362.5 L639.3,362.6 L640.3,366.0 L640.6,365.2 L641.0,365.5 L641.3,366.7 L641.6,367.0 L642.1,366.4 L642.5,367.1 L643.5,363.0 L644.5,359.4 L645.1,358.2 L645.6,359.0 L646.0,360.3 L646.5,360.0 L646.9,360.4 L647.3,361.0 L647.7,361.2 L648.1,360.1 L648.6,358.8 L649.0,358.0 L649.5,359.1 L649.9,358.6 L650.8,356.0 L651.3,354.8 L651.8,353.8 L652.3,353.2 L652.8,354.0 L653.3,352.0 L653.8,352.0 L654.3,352.1 L654.8,352.0 L655.7,348.4 L656.2,348.0 L656.6,347.0 L657.7,343.9 L658.2,341.0 L658.3,339.2 L659.4,336.0 L660.4,332.0 L660.4,330.0 L661.0,326.4 L661.9,322.0 L662.9,318.6 L662.7,314.3 L663.6,312.0 L664.7,308.4 L665.2,303.0 L666.1,306.9 L666.5,308.3 L667.0,308.0 L667.8,311.6 L668.2,311.0 L668.6,312.0 L668.4,315.8 L669.5,320.0 L669.6,325.0 L670.4,338.0 L671.4,357.0 L671.6,361.1 L673.0,364.9 L672.7,368.8 L673.6,372.0 L674.2,368.1 L674.0,364.6 L674.5,360.0 L675.5,340.0 L676.3,325.0" stroke="#000" stroke-width="3.5"/>
<path d="M77.9,242.0 L78.2,290.0 L78.6,340.0 L78.6,336.4 L79.6,332.6 L79.6,330.0 L80.6,345.0 L81.2,341.5 L82.3,338.0 L84.0,362.0 L85.2,320.0 L86.4,279.0 L87.8,300.0 L89.3,327.0 L90.1,330.7 L89.6,336.6 L90.8,339.9 L90.6,345.0 L91.0,349.9 L91.8,353.0 L92.4,320.0 L92.9,293.0 L93.8,318.0 L94.8,291.0 L95.8,314.0 L96.8,290.0 L98.0,315.0 L98.8,310.3 L98.5,306.5 L99.0,301.0 L99.9,322.0 L100.7,334.0 L101.5,300.0 L102.2,267.0 L103.2,215.0 L104.6,172.0 L105.4,200.0 L106.6,251.0 L107.8,215.0 L109.4,180.0 L110.6,200.0 L112.0,223.0 L112.8,205.0 L113.6,192.0 L114.2,189.5 L113.8,186.0 L114.5,182.0 L115.4,200.0 L117.2,236.0 L118.6,205.0 L119.7,150.0 L120.3,118.0 L120.8,88.0 L121.2,70.0 L121.9,83.0 L122.7,95.0 L123.3,100.1 L123.5,104.0 L123.6,107.8 L124.2,112.0 L125.0,116.7 L124.9,120.0 L124.4,123.0 L124.7,126.1 L125.6,130.4 L125.8,134.0 L125.9,136.2 L126.6,140.0 L127.1,140.5 L127.6,139.0 L128.6,143.0 L129.4,145.9 L129.7,148.0 L129.9,150.6 L131.0,155.0 L131.7,159.8 L131.6,164.2 L132.4,167.9 L132.6,172.0 L132.7,176.8 L133.7,180.8 L133.4,185.4 L134.2,190.0 L135.0,194.6 L134.6,198.5 L135.7,204.2 L135.7,209.0 L136.6,196.0 L137.1,160.0 L137.8,130.0 L138.9,110.5 L139.5,128.0 L140.1,143.0 L140.3,139.2 L141.3,134.2 L141.3,130.0 L141.5,126.3 L142.3,121.9 L142.5,119.0 L143.2,130.0 L143.8,140.0 L143.8,136.2 L144.4,134.0 L145.0,135.0 L145.9,148.0 L146.6,152.0 L146.6,156.3 L147.3,160.5 L147.2,164.0 L148.0,168.0 L148.6,172.6 L148.6,178.1 L149.5,182.5 L149.3,186.9 L150.2,191.0 L151.5,235.0 L152.3,230.1 L151.7,226.3 L152.6,222.0 L153.8,218.3 L154.0,213.0 L155.0,209.6 L156.4,205.0 L157.5,207.8 L157.4,212.8 L158.3,216.0 L159.1,220.5 L159.3,224.0 L160.2,227.0 L161.4,204.0 L161.9,200.0 L161.5,195.4 L162.5,192.0 L162.6,188.0 L162.7,183.7 L163.5,180.7 L163.7,178.0 L163.8,182.4 L164.3,182.5 L164.8,185.1 L165.3,185.3 L165.4,190.0 L165.6,193.2 L166.9,198.3 L167.2,202.0 L168.8,233.0 L168.8,238.0 L169.8,241.7 L169.3,245.0 L170.1,250.0 L170.9,254.5 L170.5,259.1 L171.3,263.7 L171.4,267.0 L172.3,300.0 L173.2,330.0 L174.2,360.0 L175.2,384.0 L175.2,379.7 L176.4,375.9 L176.4,372.0 L176.6,369.2 L177.4,366.0 L177.7,362.0 L178.1,365.3 L179.0,368.0 L180.0,371.0 L181.2,350.0 L181.8,327.0 L182.4,305.0 L183.0,287.0 L184.0,282.7 L184.0,278.0 L184.0,273.6 L184.8,270.0 L185.5,265.1 L185.7,262.2 L186.5,258.0 L187.6,255.0 L188.0,252.0 L188.4,252.3 L188.8,252.0 L188.9,254.6 L190.1,259.0 L190.4,262.0 L190.7,264.3 L191.7,267.9 L191.9,272.0 L192.0,275.4 L193.0,280.2 L192.8,284.2 L193.4,288.0 L194.2,291.3 L193.9,295.5 L194.9,300.0 L195.5,294.5 L195.4,291.4 L196.2,286.0 L197.1,281.8 L196.8,277.0 L197.5,274.0 L198.4,278.1 L198.2,282.3 L199.0,286.0 L199.8,290.9 L199.5,293.5 L200.4,298.0 L201.6,301.6 L201.9,307.0 L202.8,304.7 L203.6,302.0 L204.1,300.7 L204.5,300.5 L204.9,300.2 L205.4,300.0 L206.3,296.2 L206.8,295.2 L207.2,295.0 L207.6,299.1 L208.4,302.0 L209.6,325.0 L210.0,328.9 L209.7,331.8 L210.6,336.5 L210.7,340.0 L211.8,312.0 L213.4,288.0 L213.5,283.5 L214.6,277.8 L214.3,273.4 L215.0,269.0 L215.6,273.5 L215.5,276.9 L216.5,280.9 L216.8,284.0 L217.0,288.6 L218.3,293.2 L218.5,298.0 L218.8,293.2 L219.6,290.0 L220.6,284.6 L221.2,281.0 L222.1,277.7 L222.5,276.4 L222.9,276.0 L223.0,280.4 L224.3,284.4 L224.4,288.0 L224.6,292.1 L225.6,296.6 L225.8,300.0 L226.0,303.5 L227.2,308.9 L227.3,312.0 L227.6,315.8 L228.4,318.0 L229.0,320.9 L229.0,325.2 L229.6,328.0 L230.5,324.5 L230.1,320.8 L230.8,316.0 L231.7,311.5 L232.0,308.0 L232.3,307.4 L232.7,308.0 L233.4,304.0 L233.7,307.9 L234.7,311.0 L235.7,315.0 L236.0,317.0 L236.0,321.0 L237.0,324.4 L236.9,327.0 L237.8,312.0 L239.0,290.0 L240.2,272.0 L240.4,269.9 L241.3,267.0 L242.5,270.1 L243.0,274.0 L243.7,277.7 L244.8,281.0 L245.9,285.3 L246.6,288.0 L246.9,283.4 L247.3,282.2 L247.8,281.5 L248.1,277.0 L248.3,273.0 L249.3,269.4 L249.6,267.0 L249.9,262.8 L251.0,258.0 L252.0,263.0 L252.2,267.0 L252.4,270.5 L253.3,274.3 L253.4,277.0 L253.5,282.3 L254.5,286.0 L255.1,282.1 L254.8,277.6 L255.7,272.0 L256.3,266.7 L256.3,261.7 L256.9,258.0 L257.8,254.3 L257.4,250.0 L258.2,245.0 L259.0,240.9 L258.8,236.9 L259.4,234.0 L260.1,237.1 L259.8,241.2 L260.4,245.0 L260.9,248.2 L260.8,252.8 L261.3,256.0 L261.9,259.3 L261.5,263.3 L262.3,267.0 L262.8,266.9 L263.3,264.7 L263.4,262.0 L263.8,259.3 L264.6,257.0 L265.8,253.0 L266.6,257.0 L266.7,260.0 L266.9,264.4 L267.6,268.0 L268.5,270.8 L268.3,273.8 L269.3,278.0 L270.3,280.7 L270.3,284.1 L271.1,288.0 L272.2,293.0 L272.4,296.0 L272.9,300.0 L273.7,304.0 L274.0,304.2 L274.4,302.5 L274.7,302.6 L275.0,301.0 L275.4,300.2 L275.7,300.9 L276.4,298.0 L277.2,301.5 L277.6,305.0 L277.9,309.2 L278.8,312.0 L279.6,315.4 L279.9,317.0 L280.7,329.0 L281.1,332.4 L282.0,337.0 L283.1,341.0 L283.4,345.0 L283.9,342.8 L284.8,340.0 L285.4,343.1 L285.6,345.0 L285.7,349.6 L286.6,353.0 L287.5,356.7 L287.7,361.0 L288.1,363.3 L289.0,366.0 L289.6,366.4 L290.2,367.7 L290.4,371.0 L290.5,366.1 L291.6,363.0 L292.3,358.5 L292.6,355.0 L293.5,358.4 L293.9,359.0 L294.4,358.0 L295.2,360.5 L296.1,363.0 L296.3,359.4 L297.3,354.3 L297.6,350.0 L297.7,346.2 L298.9,341.6 L299.0,337.0 L299.2,333.0 L300.2,330.4 L300.5,326.0 L300.8,330.5 L301.8,334.0 L302.7,337.4 L303.1,341.0 L303.1,338.7 L304.0,336.0 L304.6,333.4 L304.9,331.0 L305.8,345.0 L306.6,358.0 L307.5,371.0 L307.6,373.8 L308.9,377.3 L309.2,381.0 L309.4,385.0 L310.0,385.1 L310.6,387.0 L311.0,391.0 L311.5,386.2 L312.4,382.0 L313.4,376.8 L313.7,373.0 L314.1,375.4 L315.0,379.0 L316.1,382.5 L316.3,385.0 L316.5,381.9 L317.4,376.8 L317.6,373.0 L317.5,369.6 L318.9,364.9 L318.9,361.0 L319.3,361.7 L319.6,361.5 L320.4,365.0 L320.7,361.7 L321.3,360.4 L321.8,360.0 L322.8,357.3 L323.3,355.0 L323.6,358.5 L324.6,362.7 L324.6,366.0 L324.7,369.9 L325.8,372.6 L325.9,377.0 L326.4,377.2 L326.9,375.5 L327.5,373.3 L328.0,373.0 L328.6,372.6 L329.1,371.0 L329.7,370.2 L330.3,370.0 L330.7,374.3 L331.2,374.5 L331.6,375.1 L332.0,377.0 L333.2,380.6 L333.8,384.0 L334.6,387.2 L335.1,388.3 L335.5,388.0 L335.9,388.6 L336.4,389.1 L336.9,389.4 L337.3,391.0 L337.5,387.1 L338.6,382.9 L338.6,378.0 L338.6,374.7 L339.9,370.3 L339.9,366.0 L340.2,370.1 L341.2,375.0 L342.3,378.7 L342.6,384.0 L343.0,387.6 L343.9,390.0 L344.9,393.3 L345.2,396.0 L345.6,392.8 L346.5,390.0 L347.5,387.2 L347.8,384.0 L347.9,381.0 L349.1,376.7 L349.0,374.0 L349.8,330.0 L350.4,298.0 L351.0,330.0 L352.0,370.0 L353.1,387.0 L353.0,383.6 L354.0,379.0 L353.6,374.1 L354.4,371.0 L355.1,366.3 L354.6,363.9 L355.7,358.2 L355.7,355.0 L355.7,359.1 L356.8,363.0 L356.3,367.7 L357.0,371.0 L357.7,374.8 L357.2,378.4 L358.4,382.8 L358.3,387.0 L359.2,367.0 L360.1,348.0 L360.5,350.7 L361.8,355.0 L363.2,358.7 L363.6,363.0 L364.3,358.0 L365.3,354.0 L366.5,349.0 L367.1,346.0 L367.7,341.8 L368.8,338.0 L370.0,341.2 L370.5,345.0 L371.4,341.4 L371.9,340.6 L372.3,340.0 L372.8,340.9 L373.2,340.2 L374.1,343.0 L374.1,347.9 L375.0,351.0 L375.7,354.4 L375.8,359.0 L376.1,356.3 L376.6,354.6 L377.2,354.0 L378.1,350.3 L378.5,348.0 L378.5,352.0 L379.1,353.4 L379.7,354.6 L379.8,358.0 L379.9,360.8 L381.2,364.4 L381.1,368.0 L381.6,365.1 L382.8,361.0 L384.1,357.4 L384.6,354.0 L385.2,357.6 L386.4,361.0 L387.4,365.2 L388.1,368.0 L388.5,365.2 L389.4,361.0 L390.3,357.3 L390.7,354.0 L391.1,356.9 L392.0,360.0 L392.5,360.3 L392.9,362.0 L393.4,366.0 L393.6,361.6 L394.7,358.0 L395.6,353.6 L396.0,350.0 L396.3,353.5 L397.6,357.7 L397.8,361.0 L398.1,365.2 L398.5,365.1 L399.0,366.8 L399.4,366.8 L399.5,371.0 L400.4,358.0 L401.2,345.0 L401.8,344.0 L402.0,347.3 L402.5,348.6 L403.0,349.0 L404.0,344.6 L403.7,341.9 L404.7,338.0 L405.3,353.0 L406.3,348.0 L407.0,345.0 L407.4,341.3 L408.8,337.0 L409.7,340.2 L410.1,345.0 L410.6,348.0 L411.4,352.0 L412.3,347.7 L412.3,344.0 L413.1,362.0 L414.0,342.0 L414.2,347.3 L414.9,351.0 L415.6,347.0 L415.0,344.6 L415.8,341.0 L416.6,336.8 L416.6,332.0 L416.6,336.6 L417.5,340.0 L418.4,342.9 L418.4,347.0 L418.7,343.1 L419.7,339.0 L420.8,334.9 L421.0,331.0 L421.0,334.1 L421.9,337.0 L422.6,339.0 L422.8,342.0 L423.5,345.5 L424.5,349.0 L425.4,345.9 L425.9,345.8 L426.3,347.0 L427.2,342.6 L427.1,339.7 L428.0,336.0 L428.9,333.4 L429.0,330.0 L429.8,326.0 L431.1,330.0 L432.1,332.6 L432.4,335.0 L432.7,332.7 L433.7,329.0 L434.6,325.8 L435.0,323.0 L435.2,325.2 L436.4,329.0 L437.4,332.3 L437.7,335.0 L438.2,331.7 L439.0,328.0 L440.0,325.4 L440.3,321.0 L440.7,317.5 L441.6,312.0 L442.6,308.0 L442.9,304.0 L442.9,305.6 L443.8,309.0 L444.7,311.8 L444.7,314.0 L445.1,310.7 L446.0,306.0 L446.9,302.4 L447.3,299.0 L447.6,302.0 L448.1,302.2 L448.6,304.0 L449.9,308.0 L450.8,294.0 L451.7,281.0 L452.4,283.4 L452.6,286.0 L452.7,288.6 L453.4,291.0 L454.3,275.0 L455.2,259.0 L456.3,263.1 L456.5,268.0 L457.1,268.2 L457.6,270.0 L457.5,266.1 L458.5,262.0 L458.2,259.7 L458.8,255.0 L459.6,251.9 L459.3,247.3 L460.0,244.0 L460.9,240.2 L461.3,236.0 L461.4,239.6 L462.2,242.0 L462.8,245.4 L463.1,248.0 L463.3,252.1 L464.4,256.0 L465.2,259.6 L465.7,264.0 L466.6,261.0 L467.5,258.0 L468.2,260.4 L469.2,264.0 L470.6,267.7 L471.0,271.0 L471.3,274.1 L471.8,275.3 L472.3,276.0 L472.9,277.4 L473.4,278.7 L473.6,281.0 L473.9,285.3 L474.9,289.0 L475.9,292.7 L476.2,296.0 L476.9,298.4 L477.2,298.2 L477.5,299.0 L477.8,298.5 L478.1,299.1 L478.8,302.0 L479.3,304.9 L480.5,308.0 L480.9,309.0 L481.4,309.9 L481.8,310.2 L482.3,314.0 L483.0,311.5 L483.3,312.4 L483.6,312.0 L484.3,309.3 L484.6,310.3 L485.0,311.0 L485.0,315.3 L485.8,318.0 L486.6,320.7 L486.7,324.0 L486.9,328.1 L488.0,331.0 L489.0,334.0 L489.4,338.0 L490.2,341.0 L491.1,344.0 L491.6,343.4 L492.0,344.0 L492.4,342.4 L492.9,342.5 L493.4,343.2 L493.8,343.0 L494.2,342.9 L494.6,343.1 L495.1,344.0 L495.5,344.0 L495.7,347.4 L496.4,351.0 L497.2,354.9 L497.2,357.0 L498.1,360.0 L499.4,356.0 L499.7,354.5 L500.0,354.9 L500.7,358.0 L500.7,361.3 L501.5,367.1 L501.3,371.6 L502.0,375.0 L502.7,378.0 L502.4,383.2 L503.5,388.0 L503.4,391.0 L503.5,386.5 L504.5,382.6 L504.7,378.0 L504.9,373.0 L505.7,368.3 L506.0,365.0 L507.3,369.0 L508.0,371.4 L508.3,372.3 L508.6,372.0 L508.9,368.6 L509.7,364.1 L510.0,359.0 L510.5,357.5 L511.1,356.7 L511.6,358.0 L512.1,358.0 L512.2,362.4 L512.9,366.5 L513.0,370.0 L513.9,383.0 L514.3,385.6 L515.2,390.0 L516.3,394.4 L516.5,398.0 L516.4,394.1 L517.4,389.6 L517.6,385.0 L517.6,380.6 L518.9,375.8 L518.8,372.0 L519.6,375.7 L520.1,376.1 L520.5,375.0 L521.4,377.5 L521.8,377.8 L522.3,378.0 L522.8,373.4 L523.5,371.4 L524.1,371.3 L524.4,367.0 L525.0,363.3 L526.3,359.7 L526.6,357.0 L526.6,360.3 L527.7,363.4 L528.0,367.0 L528.1,370.5 L529.3,373.6 L529.3,378.0 L529.8,378.0 L530.4,376.4 L531.5,372.0 L532.6,368.8 L533.2,367.9 L533.7,367.0 L534.2,370.8 L535.5,374.0 L536.6,377.3 L537.2,381.0 L537.7,385.4 L538.1,387.0 L538.6,386.7 L539.0,388.0 L540.3,391.6 L540.7,395.0 L541.0,390.1 L541.5,388.6 L541.9,389.0 L542.3,387.4 L542.4,383.0 L542.6,378.7 L543.0,377.5 L543.5,376.2 L544.0,376.0 L544.2,371.0 L545.1,375.1 L545.5,375.3 L546.0,376.0 L546.9,379.0 L547.3,380.2 L547.7,381.0 L548.8,377.6 L549.3,375.8 L549.8,376.0 L550.9,373.2 L551.5,372.1 L552.0,371.0 L552.0,374.4 L553.3,378.5 L553.4,382.0 L553.4,386.6 L553.9,387.7 L554.5,389.0 L554.7,394.0 L555.6,379.0 L556.4,365.0 L556.8,369.2 L558.0,374.3 L558.2,378.0 L558.3,381.8 L559.8,388.0 L559.9,392.0 L559.9,388.8 L560.4,387.5 L561.0,386.0 L561.2,382.0 L561.5,377.9 L562.6,373.0 L563.0,373.3 L563.5,375.6 L563.9,376.2 L564.3,380.0 L565.0,384.1 L566.1,388.0 L567.6,383.4 L568.2,380.0 L568.9,376.4 L570.4,371.0 L571.1,374.9 L570.9,378.3 L571.8,382.0 L572.5,385.5 L572.3,390.6 L573.1,394.0 L574.3,389.7 L574.8,387.0 L575.3,384.0 L576.6,380.0 L577.7,383.5 L577.9,387.4 L578.3,388.9 L578.8,389.9 L579.2,390.0 L580.4,393.3 L580.6,396.0 L581.8,400.0 L582.6,395.4 L582.5,391.7 L583.5,388.0 L584.4,383.8 L584.4,379.3 L585.3,376.0 L585.7,375.5 L586.1,375.8 L587.0,380.0 L587.9,384.9 L588.3,385.4 L588.8,385.0 L589.4,380.5 L589.1,378.1 L590.1,373.9 L590.2,370.0 L590.2,366.3 L591.0,361.6 L590.6,359.5 L591.4,355.0 L592.2,358.5 L592.1,362.2 L592.8,365.0 L593.7,370.4 L594.1,374.0 L594.5,377.6 L595.0,378.2 L595.4,379.7 L595.8,380.0 L596.3,380.1 L596.7,382.8 L597.2,383.0 L597.6,387.0 L598.3,382.9 L599.3,380.0 L600.4,375.2 L601.1,372.0 L602.0,367.3 L602.5,368.1 L603.0,367.0 L603.5,365.2 L604.6,362.0 L605.2,361.2 L605.7,360.4 L606.2,357.0 L606.6,357.0 L606.9,357.0 L607.6,353.0 L608.6,370.0 L608.7,373.9 L609.4,376.7 L608.9,380.8 L609.7,385.0 L610.6,371.0 L611.4,358.0 L612.0,362.0 L611.5,365.8 L612.6,369.1 L612.6,373.0 L612.7,377.9 L613.3,379.2 L613.8,380.4 L613.5,384.5 L614.0,389.0 L614.9,386.1 L614.7,382.3 L615.8,378.0 L616.6,374.6 L616.6,370.3 L617.6,366.0 L618.2,366.5 L618.7,366.8 L619.8,363.0 L620.8,358.9 L621.4,358.0 L621.9,359.0 L622.8,378.0 L623.7,396.0 L624.6,393.6 L625.4,395.9 L625.9,395.9 L626.3,394.0 L627.2,397.1 L627.6,396.4 L628.0,396.8 L628.5,396.3 L628.9,397.0 L629.8,394.7 L630.2,392.0 L630.5,388.7 L631.0,387.1 L631.6,387.0 L632.3,382.5 L632.3,379.0 L632.9,375.0 L633.5,370.5 L633.6,367.4 L634.2,363.0 L634.5,362.1 L634.9,362.2 L635.5,366.0 L636.8,370.0 L638.1,373.4 L638.6,378.0 L639.3,382.9 L640.3,386.0 L641.4,382.9 L642.0,378.0 L642.4,374.8 L643.8,370.0 L644.7,373.9 L645.2,378.0 L645.7,382.4 L646.5,385.0 L647.8,380.8 L648.2,376.0 L648.5,372.3 L648.9,372.0 L649.4,369.4 L649.8,369.3 L650.0,366.0 L650.3,362.8 L650.8,361.1 L651.3,361.0 L652.2,357.1 L652.6,355.0 L652.5,358.4 L653.4,362.4 L653.5,365.0 L653.5,368.2 L654.2,371.2 L654.3,375.0 L654.3,371.7 L655.2,369.0 L655.9,365.0 L656.1,361.0 L656.8,372.0 L657.4,350.0 L658.0,340.0 L658.5,368.0 L659.0,325.0 L659.6,366.0 L660.2,319.5 L660.8,352.0 L661.4,316.0 L662.0,344.0 L662.6,310.0 L663.2,339.0 L663.8,302.0 L664.4,332.0 L665.0,296.6 L665.7,338.0 L666.3,301.0 L666.9,356.0 L667.5,308.0 L668.0,362.0 L668.6,304.2 L669.2,364.0 L669.8,318.0 L670.3,370.0 L670.8,340.0 L671.3,374.0 L671.0,382.0 L671.7,379.1 L672.0,379.0 L672.4,378.0 L672.5,374.7 L673.1,373.3 L673.6,373.0 L674.4,355.0 L675.0,335.0 L675.5,315.0 L675.9,307.5" stroke="#f00" stroke-width="3.2"/>
</g>
<!-- axes -->
<g stroke="#000" stroke-width="1.6" fill="none">
<line x1="77.2" y1="1.0" x2="77.2" y2="435.9"/>
<line x1="676.5" y1="1.0" x2="676.5" y2="435.9"/>
<line x1="73.2" y1="9.7" x2="676.5" y2="9.7"/>
<line x1="73.2" y1="427.3" x2="676.5" y2="427.3"/>
<line x1="69.2" y1="9.7" x2="85.2" y2="9.7"/>
<line x1="676.5" y1="9.7" x2="684.5" y2="9.7"/>
<line x1="73.2" y1="37.5" x2="81.2" y2="37.5"/>
<line x1="676.5" y1="37.5" x2="680.5" y2="37.5"/>
<line x1="69.2" y1="65.4" x2="85.2" y2="65.4"/>
<line x1="676.5" y1="65.4" x2="684.5" y2="65.4"/>
<line x1="73.2" y1="93.2" x2="81.2" y2="93.2"/>
<line x1="676.5" y1="93.2" x2="680.5" y2="93.2"/>
<line x1="69.2" y1="121.1" x2="85.2" y2="121.1"/>
<line x1="676.5" y1="121.1" x2="684.5" y2="121.1"/>
<line x1="73.2" y1="148.9" x2="81.2" y2="148.9"/>
<line x1="676.5" y1="148.9" x2="680.5" y2="148.9"/>
<line x1="69.2" y1="176.8" x2="85.2" y2="176.8"/>
<line x1="676.5" y1="176.8" x2="684.5" y2="176.8"/>
<line x1="73.2" y1="204.7" x2="81.2" y2="204.7"/>
<line x1="676.5" y1="204.7" x2="680.5" y2="204.7"/>
<line x1="69.2" y1="232.5" x2="85.2" y2="232.5"/>
<line x1="676.5" y1="232.5" x2="684.5" y2="232.5"/>
<line x1="73.2" y1="260.4" x2="81.2" y2="260.4"/>
<line x1="676.5" y1="260.4" x2="680.5" y2="260.4"/>
<line x1="69.2" y1="288.2" x2="85.2" y2="288.2"/>
<line x1="676.5" y1="288.2" x2="684.5" y2="288.2"/>
<line x1="73.2" y1="316.1" x2="81.2" y2="316.1"/>
<line x1="676.5" y1="316.1" x2="680.5" y2="316.1"/>
<line x1="69.2" y1="343.9" x2="85.2" y2="343.9"/>
<line x1="676.5" y1="343.9" x2="684.5" y2="343.9"/>
<line x1="73.2" y1="371.8" x2="81.2" y2="371.8"/>
<line x1="676.5" y1="371.8" x2="680.5" y2="371.8"/>
<line x1="69.2" y1="399.6" x2="85.2" y2="399.6"/>
<line x1="676.5" y1="399.6" x2="684.5" y2="399.6"/>
<line x1="73.2" y1="427.5" x2="81.2" y2="427.5"/>
<line x1="676.5" y1="427.5" x2="680.5" y2="427.5"/>
<line x1="77.2" y1="427.3" x2="77.2" y2="435.9"/>
<line x1="77.2" y1="9.7" x2="77.2" y2="1.1"/>
<line x1="137.1" y1="427.3" x2="137.1" y2="431.6"/>
<line x1="137.1" y1="9.7" x2="137.1" y2="5.4"/>
<line x1="197.1" y1="427.3" x2="197.1" y2="435.9"/>
<line x1="197.1" y1="9.7" x2="197.1" y2="1.1"/>
<line x1="257.0" y1="427.3" x2="257.0" y2="431.6"/>
<line x1="257.0" y1="9.7" x2="257.0" y2="5.4"/>
<line x1="316.9" y1="427.3" x2="316.9" y2="435.9"/>
<line x1="316.9" y1="9.7" x2="316.9" y2="1.1"/>
<line x1="376.8" y1="427.3" x2="376.8" y2="431.6"/>
<line x1="376.8" y1="9.7" x2="376.8" y2="5.4"/>
<line x1="436.7" y1="427.3" x2="436.7" y2="435.9"/>
<line x1="436.7" y1="9.7" x2="436.7" y2="1.1"/>
<line x1="496.7" y1="427.3" x2="496.7" y2="431.6"/>
<line x1="496.7" y1="9.7" x2="496.7" y2="5.4"/>
<line x1="556.6" y1="427.3" x2="556.6" y2="435.9"/>
<line x1="556.6" y1="9.7" x2="556.6" y2="1.1"/>
<line x1="616.5" y1="427.3" x2="616.5" y2="431.6"/>
<line x1="616.5" y1="9.7" x2="616.5" y2="5.4"/>
<line x1="676.5" y1="427.3" x2="676.5" y2="435.9"/>
<line x1="676.5" y1="9.7" x2="676.5" y2="1.1"/>
</g>
<text x="62.8" y="15.8" text-anchor="end" font-size="20.9">-50</text>
<text x="62.8" y="71.5" text-anchor="end" font-size="20.9">-55</text>
<text x="62.8" y="127.2" text-anchor="end" font-size="20.9">-60</text>
<text x="62.8" y="182.9" text-anchor="end" font-size="20.9">-65</text>
<text x="62.8" y="238.6" text-anchor="end" font-size="20.9">-70</text>
<text x="62.8" y="294.3" text-anchor="end" font-size="20.9">-75</text>
<text x="62.8" y="350.0" text-anchor="end" font-size="20.9">-80</text>
<text x="62.8" y="405.8" text-anchor="end" font-size="20.9">-85</text>
<text x="66.2" y="456.9" text-anchor="middle" font-size="21.5">0</text>
<text x="186.1" y="456.9" text-anchor="middle" font-size="21.5">100</text>
<text x="305.9" y="456.9" text-anchor="middle" font-size="21.5">200</text>
<text x="425.7" y="456.9" text-anchor="middle" font-size="21.5">300</text>
<text x="545.6" y="456.9" text-anchor="middle" font-size="21.5">400</text>
<text x="665.5" y="456.9" text-anchor="middle" font-size="21.5">500</text>
<text x="287.9" y="492.8" font-size="23.4">Frequency / MHz</text>
<text transform="translate(17.6,301.7) rotate(-90)" font-size="23.3">Power level / dBm</text>
</svg>
</body></html>
